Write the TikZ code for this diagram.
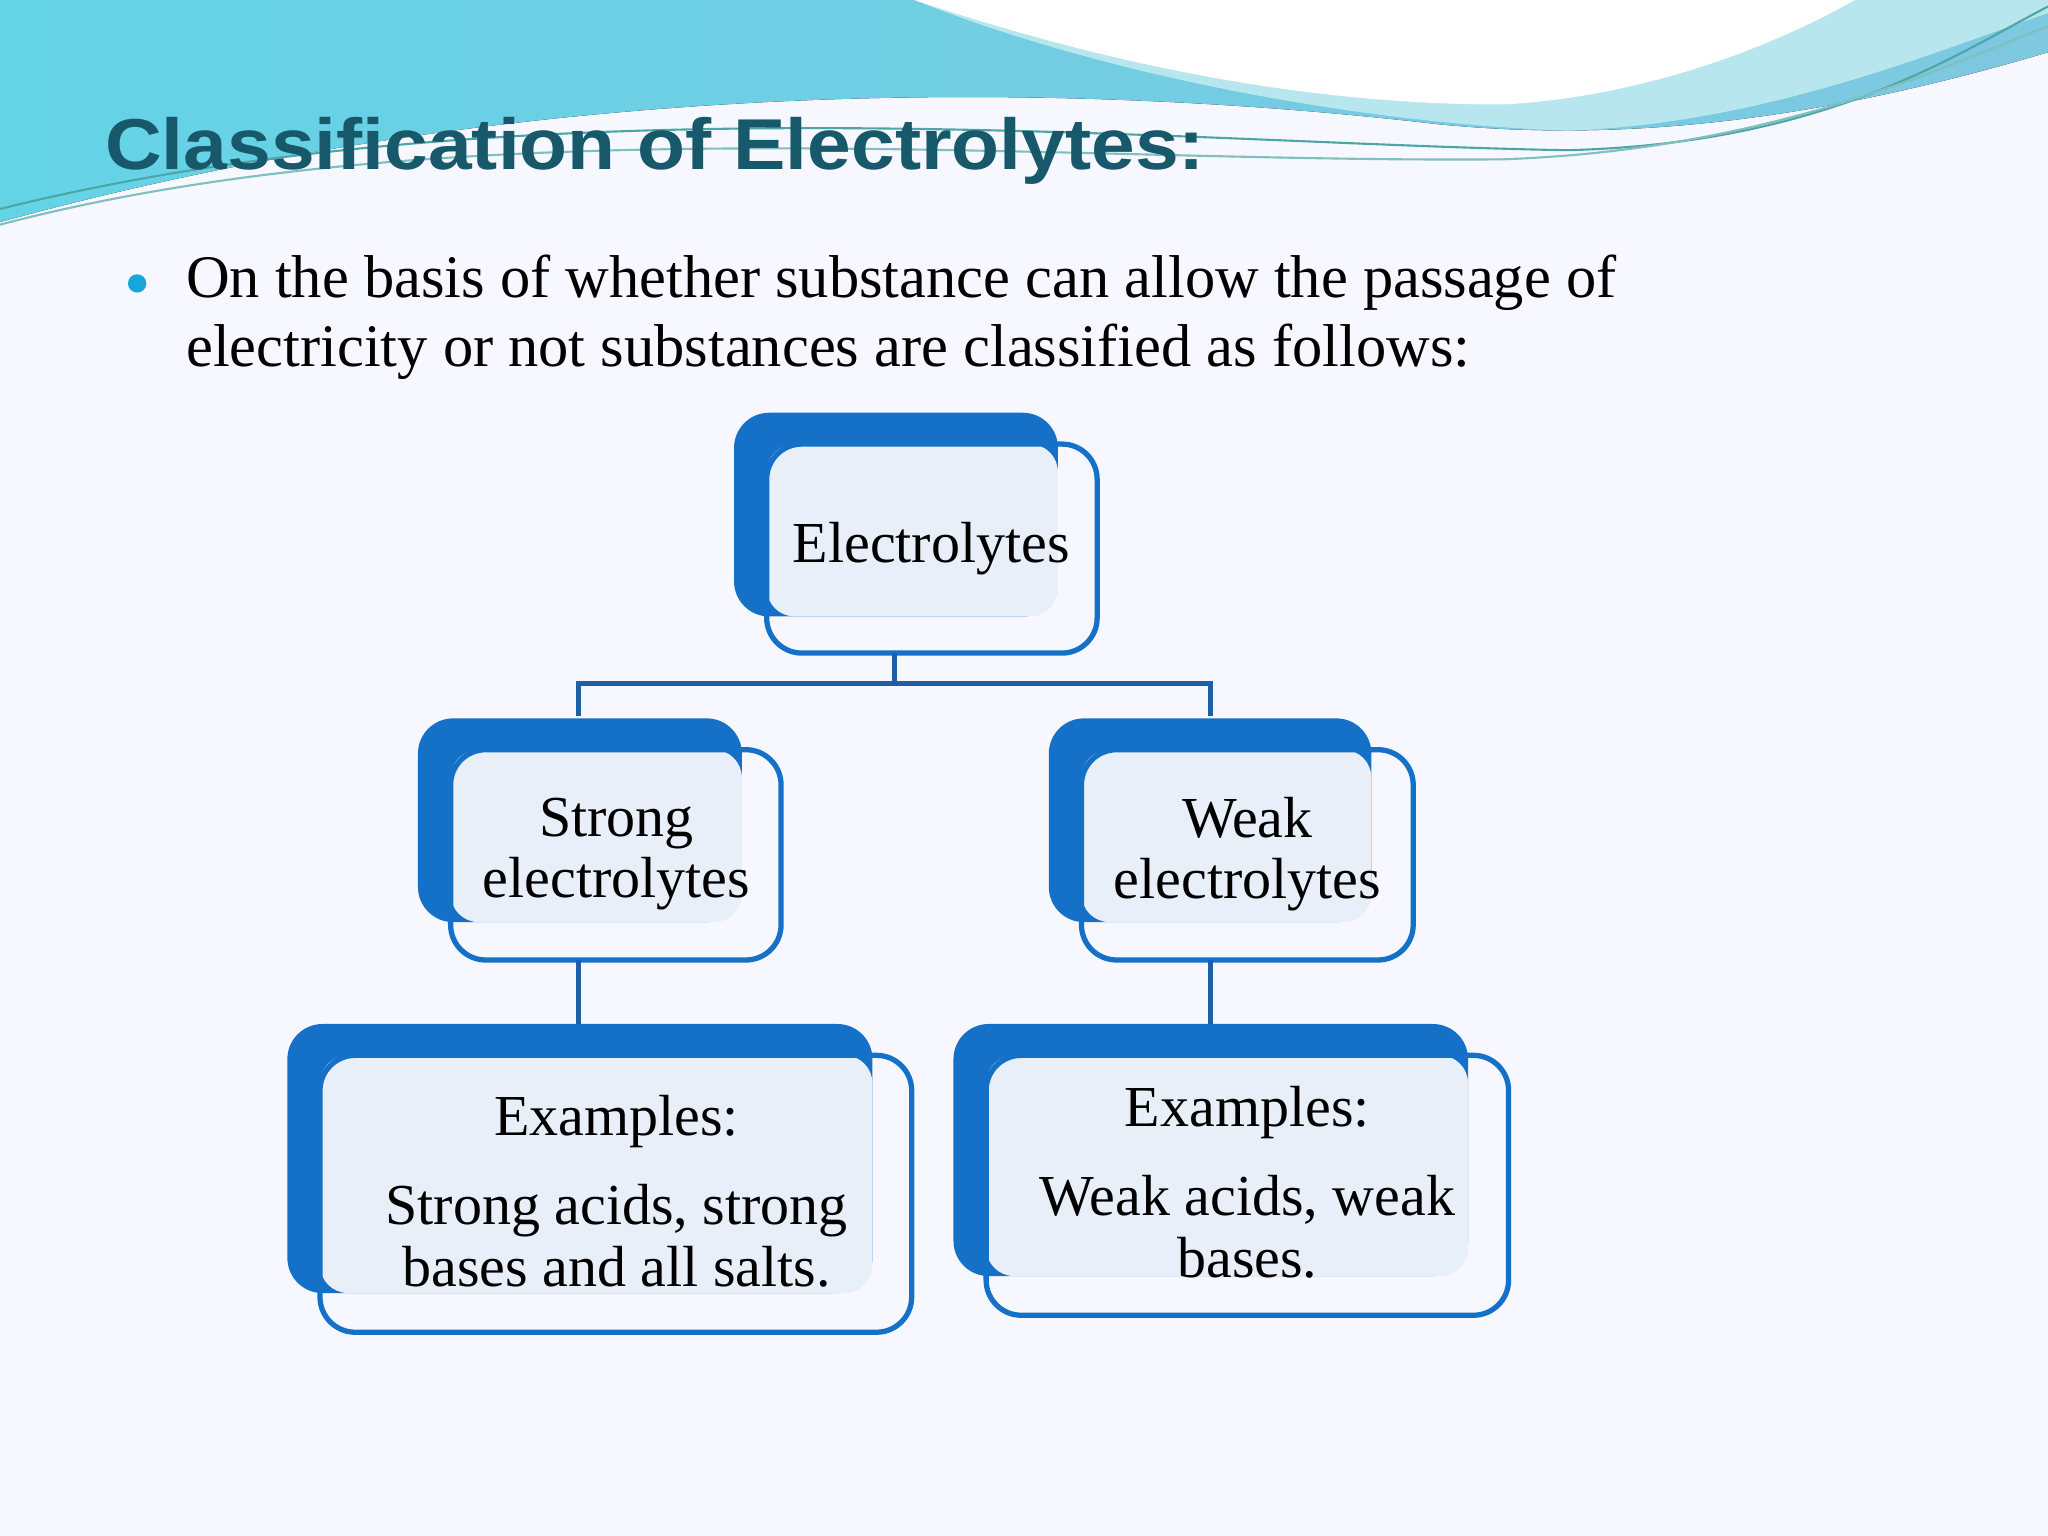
\documentclass[tikz,border=0pt]{standalone}
\usepackage{fontspec}
\setmainfont{Liberation Serif}
\newfontfamily\titlefont{Liberation Sans}
\begin{document}
\begin{tikzpicture}[x=0.013061cm,y=-0.013061cm,
  darkbox/.style={fill=boxdark,rounded corners=10},
  lightbox/.style={fill=boxlight,rounded corners=8},
  frontbox/.style={draw=boxdark,line width=1.5pt,rounded corners=10},
  conn/.style={draw=linecol,line width=1.4pt},
  lab/.style={font=\fontsize{16.5}{17.5}\selectfont,align=center,text=black}]
\definecolor{boxdark}{HTML}{1570C8}
\definecolor{boxlight}{HTML}{E8EFF8}
\definecolor{linecol}{HTML}{1F5FA8}
\definecolor{titlecol}{HTML}{17586A}
\definecolor{wave1}{HTML}{7EC8E0}
\definecolor{wave2}{HTML}{B8E6EE}
\useasboundingbox (0,0) rectangle (1568,1176);
\fill[white!97!blue] (0,0) rectangle (1568,1176);
% waves
\fill[left color=wave1!80!cyan, right color=wave1] (0,0) -- (1568,0) -- (1568,40) .. controls (1400,90) and (1250,110) .. (1100,95) .. controls (800,60) and (400,60) .. (0,170) -- cycle;
\fill[wave2] (700,0) .. controls (850,60) and (1050,95) .. (1200,100) .. controls (1350,95) and (1480,40) .. (1568,10) -- (1568,0) -- cycle;
\fill[white] (700,0) .. controls (850,50) and (1000,80) .. (1150,80) .. controls (1250,75) and (1350,40) .. (1420,0) -- cycle;
\draw[teal!70,line width=0.6pt] (0,160) .. controls (400,60) and (900,110) .. (1200,115) .. controls (1400,110) and (1500,40) .. (1568,5);
\draw[teal!50,line width=0.6pt] (0,172) .. controls (350,80) and (800,125) .. (1150,122) .. controls (1350,115) and (1480,55) .. (1568,20);
% title
\node[anchor=base west,inner sep=0,xscale=1.09,font=\titlefont\bfseries\fontsize{20.5}{24}\selectfont,text=titlecol] (title) at (80,130) {Classification of Electrolytes:};
% bullet
\fill[cyan!80!teal] (105,217) circle (7) coordinate (bul);
\node[anchor=north west,inner sep=0,align=left,font=\fontsize{17.2}{19.6}\selectfont] (intro) at (142,195)
 {On the basis of whether substance can allow the passage of\\electricity or not substances are classified as follows:};
% boxes
\fill[darkbox] (562,316) rectangle (810,472);
\fill[lightbox] (587,340) rectangle (810,472);
\draw[frontbox] (587,340) rectangle (840,500);
\node[lab] (el) at (713,420) {Electrolytes};
\coordinate (elb) at (685,500);

\fill[darkbox] (320,550) rectangle (568,706);
\fill[lightbox] (345,574) rectangle (568,706);
\draw[frontbox] (345,574) rectangle (598,735);
\node[lab] (st) at (472,654) {Strong\\electrolytes};

\fill[darkbox] (803,550) rectangle (1050,706);
\fill[lightbox] (828,574) rectangle (1050,706);
\draw[frontbox] (828,574) rectangle (1082,735);
\node[lab] (wk) at (955,654) {Weak\\electrolytes};

\fill[darkbox] (220,784) rectangle (668,990);
\fill[lightbox] (245,808) rectangle (668,990);
\draw[frontbox] (245,808) rectangle (698,1020);
\node[lab] (exs) at (472,912) {Examples:\\[8pt]Strong acids, strong\\bases and all salts.};

\fill[darkbox] (730,784) rectangle (1124,977);
\fill[lightbox] (755,808) rectangle (1124,977);
\draw[frontbox] (755,808) rectangle (1155,1007);
\node[lab] (exw) at (955,905) {Examples:\\[8pt]Weak acids, weak\\bases.};

\coordinate (stt) at (443,548);
\coordinate (wkt) at (927,548);
\coordinate (stb) at (443,735);
\coordinate (wkb) at (927,735);
\coordinate (exst) at (443,784);
\coordinate (exwt) at (927,784);
\draw[conn] (elb) -- ++(0,23) -| (stt);
\draw[conn] (elb) ++(0,23) -| (wkt);
\draw[conn] (stb) -- (exst);
\draw[conn] (wkb) -- (exwt);
\end{tikzpicture}
\end{document}
